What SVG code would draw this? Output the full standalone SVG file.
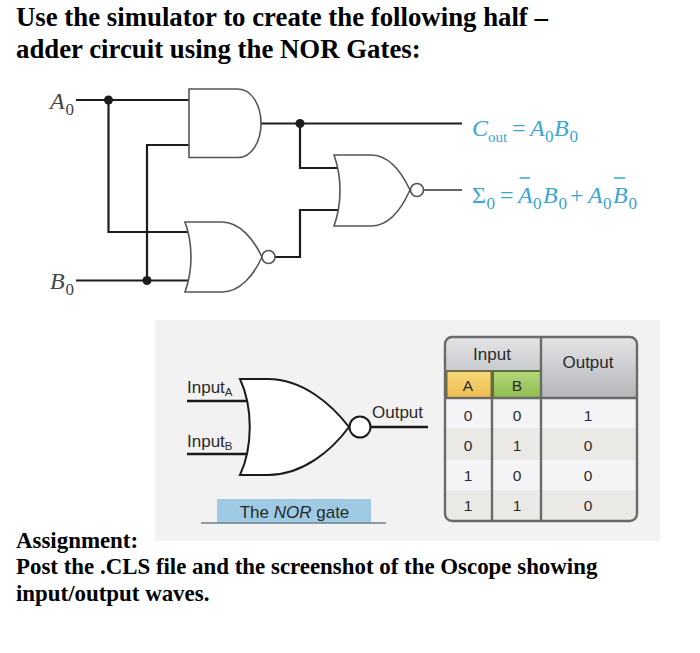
<svg xmlns="http://www.w3.org/2000/svg" width="700" height="653" viewBox="0 0 700 653">
<defs>
<linearGradient id="hdr" x1="0" y1="0" x2="0" y2="1"><stop offset="0" stop-color="#e4e4e6"/><stop offset="1" stop-color="#b4b6ba"/></linearGradient>
<linearGradient id="ca" x1="0" y1="0" x2="0" y2="1"><stop offset="0" stop-color="#f6d878"/><stop offset="1" stop-color="#f0bc50"/></linearGradient>
<linearGradient id="cb" x1="0" y1="0" x2="0" y2="1"><stop offset="0" stop-color="#b4d878"/><stop offset="1" stop-color="#8fbc50"/></linearGradient>
</defs>
<style>
.title{font-family:"Liberation Serif",serif;font-weight:bold;font-size:26.8px;fill:#000}
.body{font-family:"Liberation Serif",serif;font-weight:bold;font-size:22.9px;fill:#000}
.wire{fill:none;stroke:#1c1c1c;stroke-width:2.2}
.thin{fill:none;stroke:#333;stroke-width:1.5}
.gate{fill:#fff;stroke:#555;stroke-width:1.6}
.dot{fill:#1c1c1c}
.lbl{font-family:"Liberation Serif",serif;font-style:italic;font-size:24px;fill:#444}
.eq{font-family:"Liberation Serif",serif;font-size:24px;fill:#39a5d4}
.i{font-style:italic}
.sub{font-style:normal;font-size:17px}
.ns{font-family:"Liberation Sans",sans-serif;fill:#2a2a2a;font-size:17px}
.tline{stroke:#6a6a6a;stroke-width:2.4;fill:none}
.bw{fill:none;stroke:#1a1a1a;stroke-width:2.4}
.cell{font-family:"Liberation Sans",sans-serif;font-size:15.5px;fill:#2a2a2a;text-anchor:middle}
.head{font-size:17px}
</style>
<rect width="700" height="653" fill="#fff"/>
<text class="title" x="16" y="26">Use the simulator to create the following half –</text>
<text class="title" x="16" y="58">adder circuit using the NOR Gates:</text>

<g id="connectors">
<path class="wire" d="M76 100H189"/>
<path class="wire" d="M108.500 100V232H189"/>
<path class="wire" d="M76 280.500H189"/>
<path class="wire" d="M147 280.500V145H189"/>
<path class="wire" d="M261 123.500H462"/>
<path class="wire" d="M300 123.500V168H338"/>
<path class="wire" d="M275 257H300V210H338"/>
<path class="thin" d="M424 190H462"/>
<circle class="dot" cx="108.500" cy="100" r="4.500"/>
<circle class="dot" cx="147" cy="280.500" r="4.500"/>
<circle class="dot" cx="300" cy="123.500" r="4.500"/>
</g>
<g id="and-gate"><path class="gate" d="M189 89H238C252 89 261 106 261 123.500C261 141 252 157.500 238 157.500H189Z"/></g>
<g id="nor-lower"><path class="gate" d="M185 222H222C240 222 254 240 262 257C254 275 240 292 222 292H185C193 270 193 244 185 222Z"/><circle class="gate" cx="268.500" cy="257" r="6.500"/></g>
<g id="nor-upper"><path class="gate" d="M334 155H371C389 155 402 173 410 190C402 208 389 226 371 226H334C342 204 342 177 334 155Z"/><circle class="gate" cx="417" cy="190" r="6.500"/></g>
<g id="label-a0"><text class="lbl" x="50" y="109">A</text><text class="lbl sub" x="65.500" y="115">0</text></g>
<g id="label-b0"><text class="lbl" x="50" y="289">B</text><text class="lbl sub" x="65.500" y="295">0</text></g>
<g id="label-cout"><text class="eq" y="136"><tspan class="i" x="472">C</tspan><tspan class="sub" style="font-size:15px" x="488" y="142">out</tspan><tspan x="512" y="136">=</tspan><tspan class="i" x="530">A</tspan><tspan class="sub" x="545" y="142">0</tspan><tspan class="i" x="554" y="136">B</tspan><tspan class="sub" x="569.500" y="142">0</tspan></text></g>
<g id="label-sum"><text class="eq" y="203"><tspan x="472">Σ</tspan><tspan class="sub" x="486.500" y="209">0</tspan><tspan x="500" y="203">=</tspan><tspan class="i" x="518">A</tspan><tspan class="sub" x="533" y="209">0</tspan><tspan class="i" x="543" y="203">B</tspan><tspan class="sub" x="558.500" y="209">0</tspan><tspan x="570" y="203">+</tspan><tspan class="i" x="588">A</tspan><tspan class="sub" x="603" y="209">0</tspan><tspan class="i" x="613" y="203">B</tspan><tspan class="sub" x="628.500" y="209">0</tspan></text>
<path d="M519.500 178H530M614 178H625" stroke="#39a5d4" stroke-width="1.300"/></g>

<rect x="155" y="320" width="505" height="221" fill="#f2f2f2"/>
<g id="nor-large">
<path class="bw" d="M187 401H248M187 454H248M371 427H428"/>
<path d="M240 379H268C303 379 332 405 349 427C332 450 303 475 268 475H240C253 447 253 407 240 379Z" fill="#fff" stroke="#1a1a1a" stroke-width="2"/>
<circle cx="360" cy="427" r="10.500" fill="#fff" stroke="#1a1a1a" stroke-width="2"/>
<text class="ns" x="187" y="393">Input<tspan font-size="11.500" dy="3">A</tspan></text>
<text class="ns" x="187" y="447">Input<tspan font-size="11.500" dy="3">B</tspan></text>
<text class="ns" x="372" y="418">Output</text>
</g>
<g id="nor-caption">
<rect x="217" y="499" width="154" height="24" fill="#9ecae3"/>
<path d="M201 523H386" stroke="#6a7f8a" stroke-width="1.600"/>
<text class="ns" x="294.500" y="518" text-anchor="middle">The <tspan font-style="italic">NOR</tspan> gate</text>
</g>
<g id="truth-table">
<rect x="445" y="337" width="192" height="184" rx="7" fill="#f4f4f6"/>
<path d="M445 428H637V460H445ZM445 490H637V514Q637 521 630 521H452Q445 521 445 514Z" fill="#ebe9e6"/>
<path d="M445 398V344Q445 337 452 337H630Q637 337 637 344V398Z" fill="url(#hdr)"/>
<rect x="446.500" y="371" width="45" height="27" fill="url(#ca)" stroke="#6d6a45" stroke-width="2"/>
<rect x="493" y="371" width="48" height="27" fill="url(#cb)" stroke="#5d7040" stroke-width="2"/>
<rect class="tline" x="445" y="337" width="192" height="184" rx="7"/>
<path class="tline" d="M541 337V521M492 398V521M445 398H637"/>
<text class="cell head" x="492" y="360">Input</text>
<text class="cell head" x="588" y="368">Output</text>
<text class="cell" x="468" y="391">A</text><text class="cell" x="517" y="391">B</text>
<text class="cell" x="468" y="421">0</text><text class="cell" x="517" y="421">0</text><text class="cell" x="588" y="421">1</text>
<text class="cell" x="468" y="451">0</text><text class="cell" x="517" y="451">1</text><text class="cell" x="588" y="451">0</text>
<text class="cell" x="468" y="481">1</text><text class="cell" x="517" y="481">0</text><text class="cell" x="588" y="481">0</text>
<text class="cell" x="468" y="511">1</text><text class="cell" x="517" y="511">1</text><text class="cell" x="588" y="511">0</text>
</g>
<text class="body" x="16" y="548">Assignment:</text>
<text class="body" x="16" y="574">Post the .CLS file and the screenshot of the Oscope showing</text>
<text class="body" x="16" y="601">input/output waves.</text>
</svg>
